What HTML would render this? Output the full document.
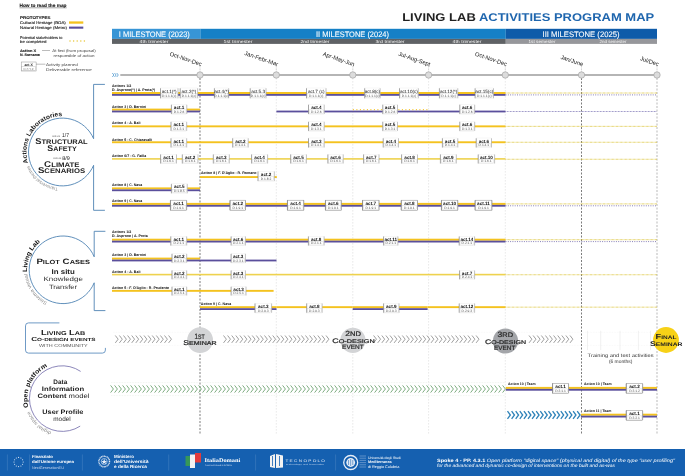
<!DOCTYPE html>
<html><head><meta charset="utf-8"><title>Living Lab Activities Program Map</title>
<style>
html,body{margin:0;padding:0;background:#fff;}
body{width:685px;height:476px;overflow:hidden;}
svg{display:block;font-family:"Liberation Sans",sans-serif;text-rendering:geometricPrecision;}
</style></head><body>
<svg width="685" height="476" viewBox="0 0 685 476">
<defs>
<path id="c1a" d="M28.16,162.80 A35.9,35.9 0 0 1 80.35,120.91"/>
<path id="c1b" d="M58.02,187.63 A35.9,35.9 0 0 1 28.26,163.09"/>
<path id="c2a" d="M27.17,271.99 A35.9,35.9 0 0 1 56.77,234.45"/>
<path id="c2b" d="M47.26,302.07 A35.9,35.9 0 0 1 27.19,272.30"/>
<path id="c3a" d="M28.41,407.36 A35,35 0 0 1 62.30,363.60"/>
<path id="c3b" d="M51.48,431.89 A35,35 0 0 1 28.66,408.25"/>
</defs>
<rect x="0" y="0" width="685" height="476" fill="#fff"/>
<text x="19.5" y="6.9" font-size="4.6" fill="#222" font-weight="bold" text-anchor="start" stroke="#222" stroke-width="0.12" textLength="47" lengthAdjust="spacingAndGlyphs">How to read the map</text>
<line x1="19.5" y1="7.8" x2="66.7" y2="7.8" stroke="#333" stroke-width="0.45" />
<text x="20" y="18.7" font-size="3.9" fill="#222" font-weight="bold" text-anchor="start" stroke="#222" stroke-width="0.12" textLength="30.6" lengthAdjust="spacingAndGlyphs">PROTOTYPES</text>
<text x="20" y="23.8" font-size="3.9" fill="#222" font-weight="normal" text-anchor="start" stroke="#222" stroke-width="0.12" textLength="45.8" lengthAdjust="spacingAndGlyphs">Cultural Heritage (BOA)</text>
<rect x="69" y="21.4" width="14.3" height="2.3" fill="#f4c21f" />
<text x="20" y="29.0" font-size="3.9" fill="#222" font-weight="normal" text-anchor="start" stroke="#222" stroke-width="0.12" textLength="47" lengthAdjust="spacingAndGlyphs">Natural Heritage (Metro)</text>
<rect x="69" y="26.6" width="14.3" height="2.1" fill="#5a4f9c" />
<text x="20" y="38.9" font-size="3.9" fill="#222" font-weight="normal" text-anchor="start" stroke="#222" stroke-width="0.12" textLength="42.3" lengthAdjust="spacingAndGlyphs">Potential stakeholders to</text>
<text x="20" y="43.3" font-size="3.9" fill="#222" font-weight="normal" text-anchor="start" stroke="#222" stroke-width="0.12" textLength="26.5" lengthAdjust="spacingAndGlyphs">be completed</text>
<circle cx="70.0" cy="40.9" r="0.75" fill="#e8c73a"/>
<circle cx="73.6" cy="40.9" r="0.75" fill="#e8c73a"/>
<circle cx="77.2" cy="40.9" r="0.75" fill="#e8c73a"/>
<circle cx="80.8" cy="40.9" r="0.75" fill="#e8c73a"/>
<circle cx="84.4" cy="40.9" r="0.75" fill="#e8c73a"/>
<text x="20" y="51.8" font-size="3.6" fill="#222" font-weight="bold" text-anchor="start" stroke="#222" stroke-width="0.12" textLength="16.1" lengthAdjust="spacingAndGlyphs">Action X</text>
<text x="20" y="56.2" font-size="3.6" fill="#222" font-weight="bold" text-anchor="start" stroke="#222" stroke-width="0.12" textLength="19.8" lengthAdjust="spacingAndGlyphs">N. Surname</text>
<line x1="42" y1="50.5" x2="50" y2="50.5" stroke="#555" stroke-width="0.4" />
<text x="52.3" y="51.9" font-size="3.9" fill="#404040" font-weight="normal" text-anchor="start" textLength="43.3" lengthAdjust="spacingAndGlyphs">At first (from proposal)</text>
<text x="53.5" y="57.3" font-size="3.9" fill="#404040" font-weight="normal" text-anchor="start" textLength="40.9" lengthAdjust="spacingAndGlyphs">responsible of action</text>
<rect x="21.2" y="62" width="14.9" height="9" fill="#fff" stroke="#888" stroke-width="0.45"/>
<text x="28.6" y="65.6" font-size="3.5" fill="#222" font-weight="bold" text-anchor="middle" >act.X</text>
<rect x="21.8" y="66.8" width="13.7" height="3.6" fill="none" stroke="#aaa" stroke-width="0.35"/>
<text x="28.6" y="69.9" font-size="3" fill="#777" font-weight="normal" text-anchor="middle" >D.X.Y.Z</text>
<line x1="36.1" y1="64.2" x2="45.4" y2="64.2" stroke="#555" stroke-width="0.4" />
<text x="46" y="65.6" font-size="3.9" fill="#404040" font-weight="normal" text-anchor="start" textLength="31.7" lengthAdjust="spacingAndGlyphs">Activity planned</text>
<text x="46" y="70.8" font-size="3.9" fill="#404040" font-weight="normal" text-anchor="start" textLength="46" lengthAdjust="spacingAndGlyphs">Deliverable reference</text>
<text x="402.2" y="21.3" font-size="11.2" font-weight="bold" fill="#222" textLength="252" lengthAdjust="spacingAndGlyphs">LIVING LAB <tspan fill="#1f66ae">ACTIVITIES PROGRAM MAP</tspan></text>
<rect x="112" y="28.8" width="88.3" height="10.1" fill="#3795d6" />
<rect x="200.3" y="28.8" width="305.5" height="10.1" fill="#1580c6" />
<rect x="505.8" y="28.8" width="151.2" height="10.1" fill="#0e5ba9" />
<rect x="112" y="38.9" width="393.8" height="5" fill="#5f6265" />
<rect x="505.8" y="38.9" width="151.2" height="5" fill="#96979b" />
<text x="154.3" y="37.4" font-size="7.9" fill="#fff" font-weight="normal" text-anchor="middle" textLength="71" lengthAdjust="spacingAndGlyphs" stroke="#fff" stroke-width="0.1">I MILESTONE (2023)</text>
<text x="352.5" y="37.4" font-size="7.9" fill="#fff" font-weight="normal" text-anchor="middle" textLength="73" lengthAdjust="spacingAndGlyphs" stroke="#fff" stroke-width="0.1">II MILESTONE (2024)</text>
<text x="581" y="37.4" font-size="7.9" fill="#fff" font-weight="normal" text-anchor="middle" textLength="77" lengthAdjust="spacingAndGlyphs" stroke="#fff" stroke-width="0.1">III MILESTONE (2025)</text>
<text x="154" y="42.9" font-size="4.3" fill="#f4f4f4" font-weight="normal" text-anchor="middle" textLength="29" lengthAdjust="spacingAndGlyphs">4th trimester</text>
<text x="238" y="42.9" font-size="4.3" fill="#f4f4f4" font-weight="normal" text-anchor="middle" textLength="29" lengthAdjust="spacingAndGlyphs">1st trimester</text>
<text x="315" y="42.9" font-size="4.3" fill="#f4f4f4" font-weight="normal" text-anchor="middle" textLength="29" lengthAdjust="spacingAndGlyphs">2nd trimester</text>
<text x="390" y="42.9" font-size="4.3" fill="#f4f4f4" font-weight="normal" text-anchor="middle" textLength="29" lengthAdjust="spacingAndGlyphs">3rd trimester</text>
<text x="467" y="42.9" font-size="4.3" fill="#f4f4f4" font-weight="normal" text-anchor="middle" textLength="29" lengthAdjust="spacingAndGlyphs">4th trimester</text>
<text x="542" y="42.9" font-size="4.3" fill="#f4f4f4" font-weight="normal" text-anchor="middle" textLength="27" lengthAdjust="spacingAndGlyphs">1st semester</text>
<text x="613" y="42.9" font-size="4.3" fill="#f4f4f4" font-weight="normal" text-anchor="middle" textLength="27" lengthAdjust="spacingAndGlyphs">2nd semester</text>
<line x1="200" y1="78" x2="200" y2="435" stroke="#444" stroke-width="0.7" stroke-dasharray="2 1.5"/>
<line x1="276.3" y1="78" x2="276.3" y2="435" stroke="#d2d2d2" stroke-width="0.5" stroke-dasharray="1.6 1.4"/>
<line x1="352.8" y1="78" x2="352.8" y2="435" stroke="#d2d2d2" stroke-width="0.5" stroke-dasharray="1.6 1.4"/>
<line x1="428.6" y1="78" x2="428.6" y2="435" stroke="#d2d2d2" stroke-width="0.5" stroke-dasharray="1.6 1.4"/>
<line x1="505.3" y1="78" x2="505.3" y2="435" stroke="#d2d2d2" stroke-width="0.5" stroke-dasharray="1.6 1.4"/>
<line x1="581.5" y1="78" x2="581.5" y2="435" stroke="#444" stroke-width="0.7" stroke-dasharray="2 1.5"/>
<line x1="657" y1="78" x2="657" y2="435" stroke="#8a8a8a" stroke-width="0.6" stroke-dasharray="2 1.5"/>
<line x1="120.3" y1="75" x2="657" y2="75" stroke="#9c9c9c" stroke-width="1.3" />
<path d="M112.3,73 l1.6,2 l-1.6,2 M114.5,73 l1.6,2 l-1.6,2 M116.7,73 l1.6,2 l-1.6,2" fill="none" stroke="#3a8cc8" stroke-width="0.7"/>
<line x1="200" y1="66" x2="200" y2="71.5" stroke="#777" stroke-width="0.4" stroke-dasharray="0.9 0.7"/>
<circle cx="200" cy="75" r="3.2" fill="#dcdcdc" stroke="#a5a5a5" stroke-width="0.7"/>
<text x="201.0" y="66.3" font-size="5.8" fill="#111" text-anchor="end" transform="rotate(19 201.0 66.3)">Oct-Nov-Dec</text>
<line x1="276.3" y1="66" x2="276.3" y2="71.5" stroke="#777" stroke-width="0.4" stroke-dasharray="0.9 0.7"/>
<circle cx="276.3" cy="75" r="3.2" fill="#dcdcdc" stroke="#a5a5a5" stroke-width="0.7"/>
<text x="277.3" y="66.3" font-size="5.8" fill="#111" text-anchor="end" transform="rotate(19 277.3 66.3)">Jan-Febr-Mar</text>
<line x1="352.8" y1="66" x2="352.8" y2="71.5" stroke="#777" stroke-width="0.4" stroke-dasharray="0.9 0.7"/>
<circle cx="352.8" cy="75" r="3.2" fill="#dcdcdc" stroke="#a5a5a5" stroke-width="0.7"/>
<text x="353.8" y="66.3" font-size="5.8" fill="#111" text-anchor="end" transform="rotate(19 353.8 66.3)">Apr-May-Jun</text>
<line x1="428.6" y1="66" x2="428.6" y2="71.5" stroke="#777" stroke-width="0.4" stroke-dasharray="0.9 0.7"/>
<circle cx="428.6" cy="75" r="3.2" fill="#dcdcdc" stroke="#a5a5a5" stroke-width="0.7"/>
<text x="429.6" y="66.3" font-size="5.8" fill="#111" text-anchor="end" transform="rotate(19 429.6 66.3)">Jul-Aug-Sept</text>
<line x1="505.3" y1="66" x2="505.3" y2="71.5" stroke="#777" stroke-width="0.4" stroke-dasharray="0.9 0.7"/>
<circle cx="505.3" cy="75" r="3.2" fill="#dcdcdc" stroke="#a5a5a5" stroke-width="0.7"/>
<text x="506.3" y="66.3" font-size="5.8" fill="#111" text-anchor="end" transform="rotate(19 506.3 66.3)">Oct-Nov-Dec</text>
<line x1="581.5" y1="66" x2="581.5" y2="71.5" stroke="#777" stroke-width="0.4" stroke-dasharray="0.9 0.7"/>
<circle cx="581.5" cy="75" r="3.2" fill="#dcdcdc" stroke="#a5a5a5" stroke-width="0.7"/>
<text x="582.5" y="66.3" font-size="5.8" fill="#111" text-anchor="end" transform="rotate(19 582.5 66.3)">Jan/June</text>
<line x1="657" y1="66" x2="657" y2="71.5" stroke="#777" stroke-width="0.4" stroke-dasharray="0.9 0.7"/>
<circle cx="657" cy="75" r="3.2" fill="#dcdcdc" stroke="#a5a5a5" stroke-width="0.7"/>
<text x="658.0" y="66.3" font-size="5.8" fill="#111" text-anchor="end" transform="rotate(19 658.0 66.3)">Jul/Dec</text>
<text x="112" y="87" font-size="3.6" fill="#111" font-weight="bold" text-anchor="start" >Actions 1/2</text>
<text x="112" y="91" font-size="3.6" fill="#111" font-weight="bold" text-anchor="start" >D. Asprone(*) | A. Prota(*)</text>
<rect x="112" y="92.0" width="393.5" height="2.0" fill="#f4c21f" />
<rect x="112" y="94.0" width="393.5" height="1.8" fill="#5a4f9c" />
<line x1="505.5" y1="93.0" x2="657" y2="93.0" stroke="#dcc43a" stroke-width="1.0" stroke-dasharray="0.7 0.6" opacity="1"/>
<line x1="505.5" y1="94.9" x2="657" y2="94.9" stroke="#6a60a8" stroke-width="1.0" stroke-dasharray="1 1.3" opacity="0.8"/>
<rect x="160.5" y="88" width="17.5" height="10.6" fill="#fff" stroke="#e4e4e4" stroke-width="0.3"/>
<line x1="160.5" y1="88.3" x2="160.5" y2="98.3" stroke="#6d6d6d" stroke-width="0.6" />
<line x1="178" y1="88.3" x2="178" y2="98.3" stroke="#8d8d8d" stroke-width="0.5" />
<text x="169.2" y="93.0" font-size="4.6" font-weight="normal" fill="#111" text-anchor="middle">act.1(*)</text>
<rect x="161.3" y="93.8" width="15.9" height="3.8" fill="none" stroke="#c4c4c4" stroke-width="0.3"/>
<text x="169.2" y="97.0" font-size="3.3" fill="#555" text-anchor="middle">D.1.1.1(c)</text>
<rect x="180.2" y="88" width="17.5" height="10.6" fill="#fff" stroke="#e4e4e4" stroke-width="0.3"/>
<line x1="180.2" y1="88.3" x2="180.2" y2="98.3" stroke="#6d6d6d" stroke-width="0.6" />
<line x1="197.7" y1="88.3" x2="197.7" y2="98.3" stroke="#8d8d8d" stroke-width="0.5" />
<text x="188.9" y="93.0" font-size="4.6" font-weight="normal" fill="#111" text-anchor="middle">act.2(*)</text>
<rect x="181.0" y="93.8" width="15.9" height="3.8" fill="none" stroke="#c4c4c4" stroke-width="0.3"/>
<text x="188.9" y="97.0" font-size="3.3" fill="#555" text-anchor="middle">D.1.1.1(c)</text>
<rect x="214.4" y="88" width="14.3" height="10.6" fill="#fff" stroke="#e4e4e4" stroke-width="0.3"/>
<line x1="214.4" y1="88.3" x2="214.4" y2="98.3" stroke="#6d6d6d" stroke-width="0.6" />
<line x1="228.7" y1="88.3" x2="228.7" y2="98.3" stroke="#8d8d8d" stroke-width="0.5" />
<text x="221.6" y="93.0" font-size="4.6" font-weight="normal" fill="#111" text-anchor="middle">act.4(*)</text>
<rect x="215.2" y="93.8" width="12.7" height="3.8" fill="none" stroke="#c4c4c4" stroke-width="0.3"/>
<text x="221.6" y="97.0" font-size="3.3" fill="#555" text-anchor="middle">D.1.1.1(c)</text>
<rect x="250.2" y="88" width="15.8" height="10.6" fill="#fff" stroke="#e4e4e4" stroke-width="0.3"/>
<line x1="250.2" y1="88.3" x2="250.2" y2="98.3" stroke="#6d6d6d" stroke-width="0.6" />
<line x1="266" y1="88.3" x2="266" y2="98.3" stroke="#8d8d8d" stroke-width="0.5" />
<text x="258.1" y="93.0" font-size="4.6" font-weight="normal" fill="#111" text-anchor="middle">act.5.3</text>
<rect x="251.0" y="93.8" width="14.2" height="3.8" fill="none" stroke="#c4c4c4" stroke-width="0.3"/>
<text x="258.1" y="97.0" font-size="3.3" fill="#555" text-anchor="middle">D.1.1.1(c)</text>
<rect x="306.5" y="88" width="19.5" height="10.6" fill="#fff" stroke="#e4e4e4" stroke-width="0.3"/>
<line x1="306.5" y1="88.3" x2="306.5" y2="98.3" stroke="#6d6d6d" stroke-width="0.6" />
<line x1="326" y1="88.3" x2="326" y2="98.3" stroke="#8d8d8d" stroke-width="0.5" />
<text x="316.2" y="93.0" font-size="4.6" font-weight="normal" fill="#111" text-anchor="middle">act.7 (c)</text>
<rect x="307.3" y="93.8" width="17.9" height="3.8" fill="none" stroke="#c4c4c4" stroke-width="0.3"/>
<text x="316.2" y="97.0" font-size="3.3" fill="#555" text-anchor="middle">D.1.1.1(c)</text>
<rect x="364.7" y="88" width="15.4" height="10.6" fill="#fff" stroke="#e4e4e4" stroke-width="0.3"/>
<line x1="364.7" y1="88.3" x2="364.7" y2="98.3" stroke="#6d6d6d" stroke-width="0.6" />
<line x1="380.1" y1="88.3" x2="380.1" y2="98.3" stroke="#8d8d8d" stroke-width="0.5" />
<text x="372.4" y="93.0" font-size="4.6" font-weight="normal" fill="#111" text-anchor="middle">act.8(c)</text>
<rect x="365.5" y="93.8" width="13.8" height="3.8" fill="none" stroke="#c4c4c4" stroke-width="0.3"/>
<text x="372.4" y="97.0" font-size="3.3" fill="#555" text-anchor="middle">D.1.1.1(c)</text>
<rect x="399.5" y="88" width="18.8" height="10.6" fill="#fff" stroke="#e4e4e4" stroke-width="0.3"/>
<line x1="399.5" y1="88.3" x2="399.5" y2="98.3" stroke="#6d6d6d" stroke-width="0.6" />
<line x1="418.3" y1="88.3" x2="418.3" y2="98.3" stroke="#8d8d8d" stroke-width="0.5" />
<text x="408.9" y="93.0" font-size="4.6" font-weight="normal" fill="#111" text-anchor="middle">act.10(c)</text>
<rect x="400.3" y="93.8" width="17.2" height="3.8" fill="none" stroke="#c4c4c4" stroke-width="0.3"/>
<text x="408.9" y="97.0" font-size="3.3" fill="#555" text-anchor="middle">D.1.1.1(c)</text>
<rect x="439.4" y="88" width="18.4" height="10.6" fill="#fff" stroke="#e4e4e4" stroke-width="0.3"/>
<line x1="439.4" y1="88.3" x2="439.4" y2="98.3" stroke="#6d6d6d" stroke-width="0.6" />
<line x1="457.8" y1="88.3" x2="457.8" y2="98.3" stroke="#8d8d8d" stroke-width="0.5" />
<text x="448.6" y="93.0" font-size="4.6" font-weight="normal" fill="#111" text-anchor="middle">act.12(*)</text>
<rect x="440.2" y="93.8" width="16.8" height="3.8" fill="none" stroke="#c4c4c4" stroke-width="0.3"/>
<text x="448.6" y="97.0" font-size="3.3" fill="#555" text-anchor="middle">D.1.1.1(c)</text>
<rect x="475.1" y="88" width="18.4" height="10.6" fill="#fff" stroke="#e4e4e4" stroke-width="0.3"/>
<line x1="475.1" y1="88.3" x2="475.1" y2="98.3" stroke="#6d6d6d" stroke-width="0.6" />
<line x1="493.5" y1="88.3" x2="493.5" y2="98.3" stroke="#8d8d8d" stroke-width="0.5" />
<text x="484.3" y="93.0" font-size="4.6" font-weight="normal" fill="#111" text-anchor="middle">act.15(c)</text>
<rect x="475.9" y="93.8" width="16.8" height="3.8" fill="none" stroke="#c4c4c4" stroke-width="0.3"/>
<text x="484.3" y="97.0" font-size="3.3" fill="#555" text-anchor="middle">D.1.1.1(c)</text>
<text x="112" y="107.6" font-size="3.6" fill="#111" font-weight="bold" text-anchor="start" >Action 3 | D. Bernini</text>
<rect x="112" y="108.6" width="88" height="2.0" fill="#f4c21f" />
<rect x="112" y="110.6" width="88" height="1.8" fill="#5a4f9c" />
<rect x="276.4" y="110.6" width="229.1" height="1.8" fill="#5a4f9c" />
<line x1="505.5" y1="111.5" x2="657" y2="111.5" stroke="#7067ae" stroke-width="1.2" stroke-dasharray="0.8 0.7" opacity="0.8"/>
<circle cx="353.4" cy="109.7" r="0.6" fill="#f4c21f"/>
<circle cx="356.9" cy="109.7" r="0.6" fill="#f4c21f"/>
<circle cx="360.4" cy="109.7" r="0.6" fill="#f4c21f"/>
<circle cx="363.9" cy="109.7" r="0.6" fill="#f4c21f"/>
<circle cx="367.4" cy="109.7" r="0.6" fill="#f4c21f"/>
<circle cx="370.9" cy="109.7" r="0.6" fill="#f4c21f"/>
<circle cx="374.4" cy="109.7" r="0.6" fill="#f4c21f"/>
<circle cx="377.9" cy="109.7" r="0.6" fill="#f4c21f"/>
<circle cx="381.4" cy="109.7" r="0.6" fill="#f4c21f"/>
<circle cx="384.9" cy="109.7" r="0.6" fill="#f4c21f"/>
<circle cx="388.4" cy="109.7" r="0.6" fill="#f4c21f"/>
<circle cx="391.9" cy="109.7" r="0.6" fill="#f4c21f"/>
<circle cx="395.4" cy="109.7" r="0.6" fill="#f4c21f"/>
<circle cx="398.9" cy="109.7" r="0.6" fill="#f4c21f"/>
<circle cx="402.4" cy="109.7" r="0.6" fill="#f4c21f"/>
<circle cx="405.9" cy="109.7" r="0.6" fill="#f4c21f"/>
<circle cx="409.4" cy="109.7" r="0.6" fill="#f4c21f"/>
<circle cx="412.9" cy="109.7" r="0.6" fill="#f4c21f"/>
<circle cx="416.4" cy="109.7" r="0.6" fill="#f4c21f"/>
<circle cx="419.9" cy="109.7" r="0.6" fill="#f4c21f"/>
<circle cx="423.4" cy="109.7" r="0.6" fill="#f4c21f"/>
<circle cx="426.9" cy="109.7" r="0.6" fill="#f4c21f"/>
<rect x="171.4" y="104.5" width="15.4" height="9.8" fill="#fff" stroke="#e4e4e4" stroke-width="0.3"/>
<line x1="171.4" y1="104.8" x2="171.4" y2="114.0" stroke="#6d6d6d" stroke-width="0.6" />
<line x1="186.8" y1="104.8" x2="186.8" y2="114.0" stroke="#8d8d8d" stroke-width="0.5" />
<text x="179.1" y="109.1" font-size="4.6" font-weight="bold" fill="#111" text-anchor="middle">act.1</text>
<rect x="172.2" y="109.9" width="13.8" height="3.5" fill="none" stroke="#c4c4c4" stroke-width="0.3"/>
<text x="179.1" y="112.8" font-size="3.3" fill="#555" text-anchor="middle">D.1.2.6</text>
<rect x="308.5" y="104.5" width="15.7" height="9.8" fill="#fff" stroke="#e4e4e4" stroke-width="0.3"/>
<line x1="308.5" y1="104.8" x2="308.5" y2="114.0" stroke="#6d6d6d" stroke-width="0.6" />
<line x1="324.2" y1="104.8" x2="324.2" y2="114.0" stroke="#8d8d8d" stroke-width="0.5" />
<text x="316.4" y="109.1" font-size="4.6" font-weight="bold" fill="#111" text-anchor="middle">act.4</text>
<rect x="309.3" y="109.9" width="14.1" height="3.5" fill="none" stroke="#c4c4c4" stroke-width="0.3"/>
<text x="316.4" y="112.8" font-size="3.3" fill="#555" text-anchor="middle">D.1.2.6</text>
<rect x="382.8" y="104.5" width="14.7" height="9.8" fill="#fff" stroke="#e4e4e4" stroke-width="0.3"/>
<line x1="382.8" y1="104.8" x2="382.8" y2="114.0" stroke="#6d6d6d" stroke-width="0.6" />
<line x1="397.5" y1="104.8" x2="397.5" y2="114.0" stroke="#8d8d8d" stroke-width="0.5" />
<text x="390.1" y="109.1" font-size="4.6" font-weight="bold" fill="#111" text-anchor="middle">act.5</text>
<rect x="383.6" y="109.9" width="13.1" height="3.5" fill="none" stroke="#c4c4c4" stroke-width="0.3"/>
<text x="390.1" y="112.8" font-size="3.3" fill="#555" text-anchor="middle">D.1.2.6</text>
<rect x="459.8" y="104.5" width="14.9" height="9.8" fill="#fff" stroke="#e4e4e4" stroke-width="0.3"/>
<line x1="459.8" y1="104.8" x2="459.8" y2="114.0" stroke="#6d6d6d" stroke-width="0.6" />
<line x1="474.7" y1="104.8" x2="474.7" y2="114.0" stroke="#8d8d8d" stroke-width="0.5" />
<text x="467.2" y="109.1" font-size="4.6" font-weight="bold" fill="#111" text-anchor="middle">act.6</text>
<rect x="460.6" y="109.9" width="13.3" height="3.5" fill="none" stroke="#c4c4c4" stroke-width="0.3"/>
<text x="467.2" y="112.8" font-size="3.3" fill="#555" text-anchor="middle">D.1.2.6</text>
<text x="112" y="124.4" font-size="3.6" fill="#111" font-weight="bold" text-anchor="start" >Action 4 - A. Bali</text>
<rect x="112" y="125.4" width="393.5" height="1.9" fill="#f4c21f" />
<line x1="505.5" y1="126.35000000000001" x2="657" y2="126.35000000000001" stroke="#dcc43a" stroke-width="1.0" stroke-dasharray="0.7 0.6" opacity="1"/>
<rect x="171" y="121.6" width="15.7" height="9.6" fill="#fff" stroke="#e4e4e4" stroke-width="0.3"/>
<line x1="171" y1="121.89999999999999" x2="171" y2="130.89999999999998" stroke="#6d6d6d" stroke-width="0.6" />
<line x1="186.7" y1="121.89999999999999" x2="186.7" y2="130.89999999999998" stroke="#8d8d8d" stroke-width="0.5" />
<text x="178.8" y="126.1" font-size="4.6" font-weight="bold" fill="#111" text-anchor="middle">act.1</text>
<rect x="171.8" y="126.9" width="14.1" height="3.5" fill="none" stroke="#c4c4c4" stroke-width="0.3"/>
<text x="178.8" y="129.8" font-size="3.3" fill="#555" text-anchor="middle">D.1.3.1</text>
<rect x="308.5" y="121.6" width="15.7" height="9.6" fill="#fff" stroke="#e4e4e4" stroke-width="0.3"/>
<line x1="308.5" y1="121.89999999999999" x2="308.5" y2="130.89999999999998" stroke="#6d6d6d" stroke-width="0.6" />
<line x1="324.2" y1="121.89999999999999" x2="324.2" y2="130.89999999999998" stroke="#8d8d8d" stroke-width="0.5" />
<text x="316.4" y="126.1" font-size="4.6" font-weight="bold" fill="#111" text-anchor="middle">act.4</text>
<rect x="309.3" y="126.9" width="14.1" height="3.5" fill="none" stroke="#c4c4c4" stroke-width="0.3"/>
<text x="316.4" y="129.8" font-size="3.3" fill="#555" text-anchor="middle">D.1.3.1</text>
<rect x="382.8" y="121.6" width="14.7" height="9.6" fill="#fff" stroke="#e4e4e4" stroke-width="0.3"/>
<line x1="382.8" y1="121.89999999999999" x2="382.8" y2="130.89999999999998" stroke="#6d6d6d" stroke-width="0.6" />
<line x1="397.5" y1="121.89999999999999" x2="397.5" y2="130.89999999999998" stroke="#8d8d8d" stroke-width="0.5" />
<text x="390.1" y="126.1" font-size="4.6" font-weight="bold" fill="#111" text-anchor="middle">act.5</text>
<rect x="383.6" y="126.9" width="13.1" height="3.5" fill="none" stroke="#c4c4c4" stroke-width="0.3"/>
<text x="390.1" y="129.8" font-size="3.3" fill="#555" text-anchor="middle">D.1.3.1</text>
<rect x="459.8" y="121.6" width="14.9" height="9.6" fill="#fff" stroke="#e4e4e4" stroke-width="0.3"/>
<line x1="459.8" y1="121.89999999999999" x2="459.8" y2="130.89999999999998" stroke="#6d6d6d" stroke-width="0.6" />
<line x1="474.7" y1="121.89999999999999" x2="474.7" y2="130.89999999999998" stroke="#8d8d8d" stroke-width="0.5" />
<text x="467.2" y="126.1" font-size="4.6" font-weight="bold" fill="#111" text-anchor="middle">act.6</text>
<rect x="460.6" y="126.9" width="13.3" height="3.5" fill="none" stroke="#c4c4c4" stroke-width="0.3"/>
<text x="467.2" y="129.8" font-size="3.3" fill="#555" text-anchor="middle">D.1.3.1</text>
<text x="112" y="140.6" font-size="3.6" fill="#111" font-weight="bold" text-anchor="start" >Action 5 - C. Chiaravalli</text>
<rect x="112" y="141.3" width="393.5" height="1.9" fill="#f4c21f" />
<line x1="505.5" y1="142.25" x2="657" y2="142.25" stroke="#dcc43a" stroke-width="1.0" stroke-dasharray="0.7 0.6" opacity="1"/>
<rect x="171" y="138" width="15.7" height="9.8" fill="#fff" stroke="#e4e4e4" stroke-width="0.3"/>
<line x1="171" y1="138.3" x2="171" y2="147.5" stroke="#6d6d6d" stroke-width="0.6" />
<line x1="186.7" y1="138.3" x2="186.7" y2="147.5" stroke="#8d8d8d" stroke-width="0.5" />
<text x="178.8" y="142.6" font-size="4.6" font-weight="bold" fill="#111" text-anchor="middle">act.1</text>
<rect x="171.8" y="143.4" width="14.1" height="3.5" fill="none" stroke="#c4c4c4" stroke-width="0.3"/>
<text x="178.8" y="146.3" font-size="3.3" fill="#555" text-anchor="middle">D.1.4.1</text>
<rect x="232.7" y="138" width="15.5" height="9.8" fill="#fff" stroke="#e4e4e4" stroke-width="0.3"/>
<line x1="232.7" y1="138.3" x2="232.7" y2="147.5" stroke="#6d6d6d" stroke-width="0.6" />
<line x1="248.2" y1="138.3" x2="248.2" y2="147.5" stroke="#8d8d8d" stroke-width="0.5" />
<text x="240.4" y="142.6" font-size="4.6" font-weight="bold" fill="#111" text-anchor="middle">act.2</text>
<rect x="233.5" y="143.4" width="13.9" height="3.5" fill="none" stroke="#c4c4c4" stroke-width="0.3"/>
<text x="240.4" y="146.3" font-size="3.3" fill="#555" text-anchor="middle">D.1.4.1</text>
<rect x="308.5" y="138" width="15.7" height="9.8" fill="#fff" stroke="#e4e4e4" stroke-width="0.3"/>
<line x1="308.5" y1="138.3" x2="308.5" y2="147.5" stroke="#6d6d6d" stroke-width="0.6" />
<line x1="324.2" y1="138.3" x2="324.2" y2="147.5" stroke="#8d8d8d" stroke-width="0.5" />
<text x="316.4" y="142.6" font-size="4.6" font-weight="bold" fill="#111" text-anchor="middle">act.3</text>
<rect x="309.3" y="143.4" width="14.1" height="3.5" fill="none" stroke="#c4c4c4" stroke-width="0.3"/>
<text x="316.4" y="146.3" font-size="3.3" fill="#555" text-anchor="middle">D.1.4.1</text>
<rect x="383.2" y="138" width="15.3" height="9.8" fill="#fff" stroke="#e4e4e4" stroke-width="0.3"/>
<line x1="383.2" y1="138.3" x2="383.2" y2="147.5" stroke="#6d6d6d" stroke-width="0.6" />
<line x1="398.5" y1="138.3" x2="398.5" y2="147.5" stroke="#8d8d8d" stroke-width="0.5" />
<text x="390.9" y="142.6" font-size="4.6" font-weight="bold" fill="#111" text-anchor="middle">act.4</text>
<rect x="384.0" y="143.4" width="13.7" height="3.5" fill="none" stroke="#c4c4c4" stroke-width="0.3"/>
<text x="390.9" y="146.3" font-size="3.3" fill="#555" text-anchor="middle">D.1.4.1</text>
<rect x="442.4" y="138" width="15.4" height="9.8" fill="#fff" stroke="#e4e4e4" stroke-width="0.3"/>
<line x1="442.4" y1="138.3" x2="442.4" y2="147.5" stroke="#6d6d6d" stroke-width="0.6" />
<line x1="457.8" y1="138.3" x2="457.8" y2="147.5" stroke="#8d8d8d" stroke-width="0.5" />
<text x="450.1" y="142.6" font-size="4.6" font-weight="bold" fill="#111" text-anchor="middle">act.5</text>
<rect x="443.2" y="143.4" width="13.8" height="3.5" fill="none" stroke="#c4c4c4" stroke-width="0.3"/>
<text x="450.1" y="146.3" font-size="3.3" fill="#555" text-anchor="middle">D.1.4.1</text>
<rect x="476.2" y="138" width="15.3" height="9.8" fill="#fff" stroke="#e4e4e4" stroke-width="0.3"/>
<line x1="476.2" y1="138.3" x2="476.2" y2="147.5" stroke="#6d6d6d" stroke-width="0.6" />
<line x1="491.5" y1="138.3" x2="491.5" y2="147.5" stroke="#8d8d8d" stroke-width="0.5" />
<text x="483.9" y="142.6" font-size="4.6" font-weight="bold" fill="#111" text-anchor="middle">act.6</text>
<rect x="477.0" y="143.4" width="13.7" height="3.5" fill="none" stroke="#c4c4c4" stroke-width="0.3"/>
<text x="483.9" y="146.3" font-size="3.3" fill="#555" text-anchor="middle">D.1.4.1</text>
<text x="112" y="157.4" font-size="3.6" fill="#111" font-weight="bold" text-anchor="start" >Action 6/7 - G. Failla</text>
<rect x="112" y="158.1" width="393.5" height="1.6" fill="#eed24e" />
<line x1="505.5" y1="159.25" x2="657" y2="159.25" stroke="#dcc43a" stroke-width="1.0" stroke-dasharray="0.7 0.6" opacity="1"/>
<rect x="160.6" y="154.2" width="15.9" height="9.6" fill="#fff" stroke="#e4e4e4" stroke-width="0.3"/>
<line x1="160.6" y1="154.5" x2="160.6" y2="163.5" stroke="#6d6d6d" stroke-width="0.6" />
<line x1="176.5" y1="154.5" x2="176.5" y2="163.5" stroke="#8d8d8d" stroke-width="0.5" />
<text x="168.6" y="158.7" font-size="4.6" font-weight="bold" fill="#111" text-anchor="middle">act.1</text>
<rect x="161.4" y="159.5" width="14.3" height="3.5" fill="none" stroke="#c4c4c4" stroke-width="0.3"/>
<text x="168.6" y="162.4" font-size="3.3" fill="#555" text-anchor="middle">D.1.6.1</text>
<rect x="182.3" y="154.2" width="15.7" height="9.6" fill="#fff" stroke="#e4e4e4" stroke-width="0.3"/>
<line x1="182.3" y1="154.5" x2="182.3" y2="163.5" stroke="#6d6d6d" stroke-width="0.6" />
<line x1="198" y1="154.5" x2="198" y2="163.5" stroke="#8d8d8d" stroke-width="0.5" />
<text x="190.2" y="158.7" font-size="4.6" font-weight="bold" fill="#111" text-anchor="middle">act.2</text>
<rect x="183.1" y="159.5" width="14.1" height="3.5" fill="none" stroke="#c4c4c4" stroke-width="0.3"/>
<text x="190.2" y="162.4" font-size="3.3" fill="#555" text-anchor="middle">D.1.6.1</text>
<rect x="213.3" y="154.2" width="16.0" height="9.6" fill="#fff" stroke="#e4e4e4" stroke-width="0.3"/>
<line x1="213.3" y1="154.5" x2="213.3" y2="163.5" stroke="#6d6d6d" stroke-width="0.6" />
<line x1="229.3" y1="154.5" x2="229.3" y2="163.5" stroke="#8d8d8d" stroke-width="0.5" />
<text x="221.3" y="158.7" font-size="4.6" font-weight="bold" fill="#111" text-anchor="middle">act.3</text>
<rect x="214.1" y="159.5" width="14.4" height="3.5" fill="none" stroke="#c4c4c4" stroke-width="0.3"/>
<text x="221.3" y="162.4" font-size="3.3" fill="#555" text-anchor="middle">D.1.6.1</text>
<rect x="251.6" y="154.2" width="16.0" height="9.6" fill="#fff" stroke="#e4e4e4" stroke-width="0.3"/>
<line x1="251.6" y1="154.5" x2="251.6" y2="163.5" stroke="#6d6d6d" stroke-width="0.6" />
<line x1="267.6" y1="154.5" x2="267.6" y2="163.5" stroke="#8d8d8d" stroke-width="0.5" />
<text x="259.6" y="158.7" font-size="4.6" font-weight="bold" fill="#111" text-anchor="middle">act.4</text>
<rect x="252.4" y="159.5" width="14.4" height="3.5" fill="none" stroke="#c4c4c4" stroke-width="0.3"/>
<text x="259.6" y="162.4" font-size="3.3" fill="#555" text-anchor="middle">D.1.6.1</text>
<rect x="290.7" y="154.2" width="15.7" height="9.6" fill="#fff" stroke="#e4e4e4" stroke-width="0.3"/>
<line x1="290.7" y1="154.5" x2="290.7" y2="163.5" stroke="#6d6d6d" stroke-width="0.6" />
<line x1="306.4" y1="154.5" x2="306.4" y2="163.5" stroke="#8d8d8d" stroke-width="0.5" />
<text x="298.5" y="158.7" font-size="4.6" font-weight="bold" fill="#111" text-anchor="middle">act.5</text>
<rect x="291.5" y="159.5" width="14.1" height="3.5" fill="none" stroke="#c4c4c4" stroke-width="0.3"/>
<text x="298.5" y="162.4" font-size="3.3" fill="#555" text-anchor="middle">D.1.6.1</text>
<rect x="327.9" y="154.2" width="15.3" height="9.6" fill="#fff" stroke="#e4e4e4" stroke-width="0.3"/>
<line x1="327.9" y1="154.5" x2="327.9" y2="163.5" stroke="#6d6d6d" stroke-width="0.6" />
<line x1="343.2" y1="154.5" x2="343.2" y2="163.5" stroke="#8d8d8d" stroke-width="0.5" />
<text x="335.5" y="158.7" font-size="4.6" font-weight="bold" fill="#111" text-anchor="middle">act.6</text>
<rect x="328.7" y="159.5" width="13.7" height="3.5" fill="none" stroke="#c4c4c4" stroke-width="0.3"/>
<text x="335.5" y="162.4" font-size="3.3" fill="#555" text-anchor="middle">D.1.6.1</text>
<rect x="363.6" y="154.2" width="15.4" height="9.6" fill="#fff" stroke="#e4e4e4" stroke-width="0.3"/>
<line x1="363.6" y1="154.5" x2="363.6" y2="163.5" stroke="#6d6d6d" stroke-width="0.6" />
<line x1="379" y1="154.5" x2="379" y2="163.5" stroke="#8d8d8d" stroke-width="0.5" />
<text x="371.3" y="158.7" font-size="4.6" font-weight="bold" fill="#111" text-anchor="middle">act.7</text>
<rect x="364.4" y="159.5" width="13.8" height="3.5" fill="none" stroke="#c4c4c4" stroke-width="0.3"/>
<text x="371.3" y="162.4" font-size="3.3" fill="#555" text-anchor="middle">D.1.6.1</text>
<rect x="401.6" y="154.2" width="15.9" height="9.6" fill="#fff" stroke="#e4e4e4" stroke-width="0.3"/>
<line x1="401.6" y1="154.5" x2="401.6" y2="163.5" stroke="#6d6d6d" stroke-width="0.6" />
<line x1="417.5" y1="154.5" x2="417.5" y2="163.5" stroke="#8d8d8d" stroke-width="0.5" />
<text x="409.6" y="158.7" font-size="4.6" font-weight="bold" fill="#111" text-anchor="middle">act.8</text>
<rect x="402.4" y="159.5" width="14.3" height="3.5" fill="none" stroke="#c4c4c4" stroke-width="0.3"/>
<text x="409.6" y="162.4" font-size="3.3" fill="#555" text-anchor="middle">D.1.6.1</text>
<rect x="440.4" y="154.2" width="15.9" height="9.6" fill="#fff" stroke="#e4e4e4" stroke-width="0.3"/>
<line x1="440.4" y1="154.5" x2="440.4" y2="163.5" stroke="#6d6d6d" stroke-width="0.6" />
<line x1="456.3" y1="154.5" x2="456.3" y2="163.5" stroke="#8d8d8d" stroke-width="0.5" />
<text x="448.4" y="158.7" font-size="4.6" font-weight="bold" fill="#111" text-anchor="middle">act.9</text>
<rect x="441.2" y="159.5" width="14.3" height="3.5" fill="none" stroke="#c4c4c4" stroke-width="0.3"/>
<text x="448.4" y="162.4" font-size="3.3" fill="#555" text-anchor="middle">D.1.6.1</text>
<rect x="478.2" y="154.2" width="16.4" height="9.6" fill="#fff" stroke="#e4e4e4" stroke-width="0.3"/>
<line x1="478.2" y1="154.5" x2="478.2" y2="163.5" stroke="#6d6d6d" stroke-width="0.6" />
<line x1="494.6" y1="154.5" x2="494.6" y2="163.5" stroke="#8d8d8d" stroke-width="0.5" />
<text x="486.4" y="158.7" font-size="4.6" font-weight="bold" fill="#111" text-anchor="middle">act.10</text>
<rect x="479.0" y="159.5" width="14.8" height="3.5" fill="none" stroke="#c4c4c4" stroke-width="0.3"/>
<text x="486.4" y="162.4" font-size="3.3" fill="#555" text-anchor="middle">D.1.6.1</text>
<text x="201" y="174.4" font-size="3.6" fill="#111" font-weight="bold" text-anchor="start" >Action 8 | F. D'Aglio - R. Romano</text>
<rect x="200" y="176.1" width="76.8" height="1.9" fill="#f4c21f" />
<rect x="258" y="171.2" width="16.3" height="10.2" fill="#fff" stroke="#e4e4e4" stroke-width="0.3"/>
<line x1="258" y1="171.5" x2="258" y2="181.1" stroke="#6d6d6d" stroke-width="0.6" />
<line x1="274.3" y1="171.5" x2="274.3" y2="181.1" stroke="#8d8d8d" stroke-width="0.5" />
<text x="266.1" y="176.0" font-size="4.6" font-weight="bold" fill="#111" text-anchor="middle">act.2</text>
<rect x="258.8" y="176.8" width="14.7" height="3.7" fill="none" stroke="#c4c4c4" stroke-width="0.3"/>
<text x="266.1" y="179.9" font-size="3.3" fill="#555" text-anchor="middle">D.1.8.2</text>
<text x="112" y="186.2" font-size="3.6" fill="#111" font-weight="bold" text-anchor="start" >Action 8 | C. Nava</text>
<rect x="112" y="187.4" width="88" height="2.0" fill="#f4c21f" />
<rect x="112" y="189.4" width="88" height="1.8" fill="#5a4f9c" />
<rect x="171.4" y="183.8" width="15.8" height="9.8" fill="#fff" stroke="#e4e4e4" stroke-width="0.3"/>
<line x1="171.4" y1="184.10000000000002" x2="171.4" y2="193.29999999999998" stroke="#6d6d6d" stroke-width="0.6" />
<line x1="187.2" y1="184.10000000000002" x2="187.2" y2="193.29999999999998" stroke="#8d8d8d" stroke-width="0.5" />
<text x="179.3" y="188.4" font-size="4.6" font-weight="bold" fill="#111" text-anchor="middle">act.5</text>
<rect x="172.2" y="189.2" width="14.2" height="3.5" fill="none" stroke="#c4c4c4" stroke-width="0.3"/>
<text x="179.3" y="192.1" font-size="3.3" fill="#555" text-anchor="middle">D.1.8.5</text>
<text x="112" y="201.5" font-size="3.6" fill="#111" font-weight="bold" text-anchor="start" >Action 9 | C. Nava</text>
<rect x="112" y="202.9" width="393.5" height="2.0" fill="#f4c21f" />
<rect x="112" y="204.9" width="393.5" height="1.8" fill="#5a4f9c" />
<line x1="505.5" y1="203.9" x2="657" y2="203.9" stroke="#dcc43a" stroke-width="1.0" stroke-dasharray="0.7 0.6" opacity="1"/>
<line x1="505.5" y1="205.8" x2="657" y2="205.8" stroke="#6a60a8" stroke-width="1.0" stroke-dasharray="1 1.3" opacity="0.8"/>
<rect x="170.4" y="200.2" width="16.3" height="10.2" fill="#fff" stroke="#8a8a8a" stroke-width="0.5"/>
<line x1="170.4" y1="200.5" x2="170.4" y2="210.1" stroke="#6d6d6d" stroke-width="0.6" />
<line x1="186.7" y1="200.5" x2="186.7" y2="210.1" stroke="#8d8d8d" stroke-width="0.5" />
<text x="178.6" y="205.0" font-size="4.6" font-weight="bold" fill="#111" text-anchor="middle">act.1</text>
<rect x="171.2" y="205.8" width="14.7" height="3.7" fill="none" stroke="#c4c4c4" stroke-width="0.3"/>
<text x="178.6" y="208.9" font-size="3.3" fill="#555" text-anchor="middle">D.1.9.1</text>
<rect x="230" y="200.2" width="15.5" height="10.2" fill="#fff" stroke="#8a8a8a" stroke-width="0.5"/>
<line x1="230" y1="200.5" x2="230" y2="210.1" stroke="#6d6d6d" stroke-width="0.6" />
<line x1="245.5" y1="200.5" x2="245.5" y2="210.1" stroke="#8d8d8d" stroke-width="0.5" />
<text x="237.8" y="205.0" font-size="4.6" font-weight="bold" fill="#111" text-anchor="middle">act.2</text>
<rect x="230.8" y="205.8" width="13.9" height="3.7" fill="none" stroke="#c4c4c4" stroke-width="0.3"/>
<text x="237.8" y="208.9" font-size="3.3" fill="#555" text-anchor="middle">D.1.9.1</text>
<rect x="287.4" y="200.2" width="16.4" height="10.2" fill="#fff" stroke="#8a8a8a" stroke-width="0.5"/>
<line x1="287.4" y1="200.5" x2="287.4" y2="210.1" stroke="#6d6d6d" stroke-width="0.6" />
<line x1="303.8" y1="200.5" x2="303.8" y2="210.1" stroke="#8d8d8d" stroke-width="0.5" />
<text x="295.6" y="205.0" font-size="4.6" font-weight="bold" fill="#111" text-anchor="middle">act.4</text>
<rect x="288.2" y="205.8" width="14.8" height="3.7" fill="none" stroke="#c4c4c4" stroke-width="0.3"/>
<text x="295.6" y="208.9" font-size="3.3" fill="#555" text-anchor="middle">D.1.9.1</text>
<rect x="325.4" y="200.2" width="15.8" height="10.2" fill="#fff" stroke="#8a8a8a" stroke-width="0.5"/>
<line x1="325.4" y1="200.5" x2="325.4" y2="210.1" stroke="#6d6d6d" stroke-width="0.6" />
<line x1="341.2" y1="200.5" x2="341.2" y2="210.1" stroke="#8d8d8d" stroke-width="0.5" />
<text x="333.3" y="205.0" font-size="4.6" font-weight="bold" fill="#111" text-anchor="middle">act.6</text>
<rect x="326.2" y="205.8" width="14.2" height="3.7" fill="none" stroke="#c4c4c4" stroke-width="0.3"/>
<text x="333.3" y="208.9" font-size="3.3" fill="#555" text-anchor="middle">D.1.9.1</text>
<rect x="362.6" y="200.2" width="16.4" height="10.2" fill="#fff" stroke="#8a8a8a" stroke-width="0.5"/>
<line x1="362.6" y1="200.5" x2="362.6" y2="210.1" stroke="#6d6d6d" stroke-width="0.6" />
<line x1="379" y1="200.5" x2="379" y2="210.1" stroke="#8d8d8d" stroke-width="0.5" />
<text x="370.8" y="205.0" font-size="4.6" font-weight="bold" fill="#111" text-anchor="middle">act.7</text>
<rect x="363.4" y="205.8" width="14.8" height="3.7" fill="none" stroke="#c4c4c4" stroke-width="0.3"/>
<text x="370.8" y="208.9" font-size="3.3" fill="#555" text-anchor="middle">D.1.9.1</text>
<rect x="401.2" y="200.2" width="16.3" height="10.2" fill="#fff" stroke="#8a8a8a" stroke-width="0.5"/>
<line x1="401.2" y1="200.5" x2="401.2" y2="210.1" stroke="#6d6d6d" stroke-width="0.6" />
<line x1="417.5" y1="200.5" x2="417.5" y2="210.1" stroke="#8d8d8d" stroke-width="0.5" />
<text x="409.4" y="205.0" font-size="4.6" font-weight="bold" fill="#111" text-anchor="middle">act.8</text>
<rect x="402.0" y="205.8" width="14.7" height="3.7" fill="none" stroke="#c4c4c4" stroke-width="0.3"/>
<text x="409.4" y="208.9" font-size="3.3" fill="#555" text-anchor="middle">D.1.9.1</text>
<rect x="441.4" y="200.2" width="16.4" height="10.2" fill="#fff" stroke="#8a8a8a" stroke-width="0.5"/>
<line x1="441.4" y1="200.5" x2="441.4" y2="210.1" stroke="#6d6d6d" stroke-width="0.6" />
<line x1="457.8" y1="200.5" x2="457.8" y2="210.1" stroke="#8d8d8d" stroke-width="0.5" />
<text x="449.6" y="205.0" font-size="4.6" font-weight="bold" fill="#111" text-anchor="middle">act.10</text>
<rect x="442.2" y="205.8" width="14.8" height="3.7" fill="none" stroke="#c4c4c4" stroke-width="0.3"/>
<text x="449.6" y="208.9" font-size="3.3" fill="#555" text-anchor="middle">D.1.9.1</text>
<rect x="475.1" y="200.2" width="16.8" height="10.2" fill="#fff" stroke="#8a8a8a" stroke-width="0.5"/>
<line x1="475.1" y1="200.5" x2="475.1" y2="210.1" stroke="#6d6d6d" stroke-width="0.6" />
<line x1="491.9" y1="200.5" x2="491.9" y2="210.1" stroke="#8d8d8d" stroke-width="0.5" />
<text x="483.5" y="205.0" font-size="4.6" font-weight="bold" fill="#111" text-anchor="middle">act.11</text>
<rect x="475.9" y="205.8" width="15.2" height="3.7" fill="none" stroke="#c4c4c4" stroke-width="0.3"/>
<text x="483.5" y="208.9" font-size="3.3" fill="#555" text-anchor="middle">D.1.9.1</text>
<text x="112" y="233" font-size="3.6" fill="#111" font-weight="bold" text-anchor="start" >Actions 1/2</text>
<text x="112" y="237.3" font-size="3.6" fill="#111" font-weight="bold" text-anchor="start" >D. Asprone | A. Prota</text>
<rect x="112" y="238.7" width="393.5" height="2.0" fill="#f4c21f" />
<rect x="112" y="240.7" width="393.5" height="1.8" fill="#5a4f9c" />
<line x1="505.5" y1="239.7" x2="657" y2="239.7" stroke="#dcc43a" stroke-width="1.0" stroke-dasharray="0.7 0.6" opacity="1"/>
<line x1="505.5" y1="241.6" x2="657" y2="241.6" stroke="#6a60a8" stroke-width="1.0" stroke-dasharray="1 1.3" opacity="0.8"/>
<rect x="170.8" y="236.2" width="15.9" height="9.6" fill="#fff" stroke="#e4e4e4" stroke-width="0.3"/>
<line x1="170.8" y1="236.5" x2="170.8" y2="245.5" stroke="#6d6d6d" stroke-width="0.6" />
<line x1="186.7" y1="236.5" x2="186.7" y2="245.5" stroke="#8d8d8d" stroke-width="0.5" />
<text x="178.8" y="240.7" font-size="4.6" font-weight="bold" fill="#111" text-anchor="middle">act.1</text>
<rect x="171.6" y="241.5" width="14.3" height="3.5" fill="none" stroke="#c4c4c4" stroke-width="0.3"/>
<text x="178.8" y="244.4" font-size="3.3" fill="#555" text-anchor="middle">D.2.1.1</text>
<rect x="231.1" y="236.2" width="14.3" height="9.6" fill="#fff" stroke="#e4e4e4" stroke-width="0.3"/>
<line x1="231.1" y1="236.5" x2="231.1" y2="245.5" stroke="#6d6d6d" stroke-width="0.6" />
<line x1="245.4" y1="236.5" x2="245.4" y2="245.5" stroke="#8d8d8d" stroke-width="0.5" />
<text x="238.2" y="240.7" font-size="4.6" font-weight="bold" fill="#111" text-anchor="middle">act.6</text>
<rect x="231.9" y="241.5" width="12.7" height="3.5" fill="none" stroke="#c4c4c4" stroke-width="0.3"/>
<text x="238.2" y="244.4" font-size="3.3" fill="#555" text-anchor="middle">D.2.1.1</text>
<rect x="308.4" y="236.2" width="15.7" height="9.6" fill="#fff" stroke="#e4e4e4" stroke-width="0.3"/>
<line x1="308.4" y1="236.5" x2="308.4" y2="245.5" stroke="#6d6d6d" stroke-width="0.6" />
<line x1="324.1" y1="236.5" x2="324.1" y2="245.5" stroke="#8d8d8d" stroke-width="0.5" />
<text x="316.2" y="240.7" font-size="4.6" font-weight="bold" fill="#111" text-anchor="middle">act.8</text>
<rect x="309.2" y="241.5" width="14.1" height="3.5" fill="none" stroke="#c4c4c4" stroke-width="0.3"/>
<text x="316.2" y="244.4" font-size="3.3" fill="#555" text-anchor="middle">D.2.1.1</text>
<rect x="383.6" y="236.2" width="14.3" height="9.6" fill="#fff" stroke="#e4e4e4" stroke-width="0.3"/>
<line x1="383.6" y1="236.5" x2="383.6" y2="245.5" stroke="#6d6d6d" stroke-width="0.6" />
<line x1="397.9" y1="236.5" x2="397.9" y2="245.5" stroke="#8d8d8d" stroke-width="0.5" />
<text x="390.8" y="240.7" font-size="4.6" font-weight="bold" fill="#111" text-anchor="middle">act.11</text>
<rect x="384.4" y="241.5" width="12.7" height="3.5" fill="none" stroke="#c4c4c4" stroke-width="0.3"/>
<text x="390.8" y="244.4" font-size="3.3" fill="#555" text-anchor="middle">D.2.1.1</text>
<rect x="459.2" y="236.2" width="15.4" height="9.6" fill="#fff" stroke="#e4e4e4" stroke-width="0.3"/>
<line x1="459.2" y1="236.5" x2="459.2" y2="245.5" stroke="#6d6d6d" stroke-width="0.6" />
<line x1="474.6" y1="236.5" x2="474.6" y2="245.5" stroke="#8d8d8d" stroke-width="0.5" />
<text x="466.9" y="240.7" font-size="4.6" font-weight="bold" fill="#111" text-anchor="middle">act.14</text>
<rect x="460.0" y="241.5" width="13.8" height="3.5" fill="none" stroke="#c4c4c4" stroke-width="0.3"/>
<text x="466.9" y="244.4" font-size="3.3" fill="#555" text-anchor="middle">D.2.1.1</text>
<text x="112" y="256.3" font-size="3.6" fill="#111" font-weight="bold" text-anchor="start" >Action 3 | D. Bernini</text>
<rect x="112" y="257.6" width="88" height="2.0" fill="#f4c21f" />
<rect x="112" y="259.6" width="88" height="1.8" fill="#5a4f9c" />
<rect x="200" y="259.6" width="76.5" height="1.8" fill="#5a4f9c" />
<rect x="172" y="253.6" width="14.7" height="9.4" fill="#fff" stroke="#e4e4e4" stroke-width="0.3"/>
<line x1="172" y1="253.9" x2="172" y2="262.7" stroke="#6d6d6d" stroke-width="0.6" />
<line x1="186.7" y1="253.9" x2="186.7" y2="262.7" stroke="#8d8d8d" stroke-width="0.5" />
<text x="179.3" y="258.0" font-size="4.6" font-weight="bold" fill="#111" text-anchor="middle">act.2</text>
<rect x="172.8" y="258.8" width="13.1" height="3.4" fill="none" stroke="#c4c4c4" stroke-width="0.3"/>
<text x="179.3" y="261.6" font-size="3.3" fill="#555" text-anchor="middle">D.2.3.1</text>
<rect x="231.1" y="253.6" width="14.3" height="9.4" fill="#fff" stroke="#e4e4e4" stroke-width="0.3"/>
<line x1="231.1" y1="253.9" x2="231.1" y2="262.7" stroke="#6d6d6d" stroke-width="0.6" />
<line x1="245.4" y1="253.9" x2="245.4" y2="262.7" stroke="#8d8d8d" stroke-width="0.5" />
<text x="238.2" y="258.0" font-size="4.6" font-weight="bold" fill="#111" text-anchor="middle">act.3</text>
<rect x="231.9" y="258.8" width="12.7" height="3.4" fill="none" stroke="#c4c4c4" stroke-width="0.3"/>
<text x="238.2" y="261.6" font-size="3.3" fill="#555" text-anchor="middle">D.2.3.1</text>
<text x="112" y="272.6" font-size="3.6" fill="#111" font-weight="bold" text-anchor="start" >Action 4 - A. Bali</text>
<rect x="112" y="273.8" width="393.5" height="1.6" fill="#eed24e" />
<line x1="505.5" y1="274.75" x2="657" y2="274.75" stroke="#dcc43a" stroke-width="1.0" stroke-dasharray="0.7 0.6" opacity="1"/>
<rect x="172" y="270.2" width="14.7" height="9.4" fill="#fff" stroke="#e4e4e4" stroke-width="0.3"/>
<line x1="172" y1="270.5" x2="172" y2="279.3" stroke="#6d6d6d" stroke-width="0.6" />
<line x1="186.7" y1="270.5" x2="186.7" y2="279.3" stroke="#8d8d8d" stroke-width="0.5" />
<text x="179.3" y="274.6" font-size="4.6" font-weight="bold" fill="#111" text-anchor="middle">act.2</text>
<rect x="172.8" y="275.4" width="13.1" height="3.4" fill="none" stroke="#c4c4c4" stroke-width="0.3"/>
<text x="179.3" y="278.2" font-size="3.3" fill="#555" text-anchor="middle">D.2.4.1</text>
<rect x="231.1" y="270.2" width="14.3" height="9.4" fill="#fff" stroke="#e4e4e4" stroke-width="0.3"/>
<line x1="231.1" y1="270.5" x2="231.1" y2="279.3" stroke="#6d6d6d" stroke-width="0.6" />
<line x1="245.4" y1="270.5" x2="245.4" y2="279.3" stroke="#8d8d8d" stroke-width="0.5" />
<text x="238.2" y="274.6" font-size="4.6" font-weight="bold" fill="#111" text-anchor="middle">act.3</text>
<rect x="231.9" y="275.4" width="12.7" height="3.4" fill="none" stroke="#c4c4c4" stroke-width="0.3"/>
<text x="238.2" y="278.2" font-size="3.3" fill="#555" text-anchor="middle">D.2.4.1</text>
<rect x="459.6" y="270.2" width="15.0" height="9.4" fill="#fff" stroke="#e4e4e4" stroke-width="0.3"/>
<line x1="459.6" y1="270.5" x2="459.6" y2="279.3" stroke="#6d6d6d" stroke-width="0.6" />
<line x1="474.6" y1="270.5" x2="474.6" y2="279.3" stroke="#8d8d8d" stroke-width="0.5" />
<text x="467.1" y="274.6" font-size="4.6" font-weight="bold" fill="#111" text-anchor="middle">act.7</text>
<rect x="460.4" y="275.4" width="13.4" height="3.4" fill="none" stroke="#c4c4c4" stroke-width="0.3"/>
<text x="467.1" y="278.2" font-size="3.3" fill="#555" text-anchor="middle">D.2.4.1</text>
<text x="112" y="289" font-size="3.6" fill="#111" font-weight="bold" text-anchor="start" >Action 5 - F. D'Aglio - R. Prudente</text>
<rect x="112" y="289.9" width="161.6" height="1.9" fill="#f4c21f" />
<rect x="172" y="286.5" width="14.7" height="9.3" fill="#fff" stroke="#e4e4e4" stroke-width="0.3"/>
<line x1="172" y1="286.8" x2="172" y2="295.5" stroke="#6d6d6d" stroke-width="0.6" />
<line x1="186.7" y1="286.8" x2="186.7" y2="295.5" stroke="#8d8d8d" stroke-width="0.5" />
<text x="179.3" y="290.9" font-size="4.6" font-weight="bold" fill="#111" text-anchor="middle">act.1</text>
<rect x="172.8" y="291.6" width="13.1" height="3.3" fill="none" stroke="#c4c4c4" stroke-width="0.3"/>
<text x="179.3" y="294.4" font-size="3.3" fill="#555" text-anchor="middle">D.2.5.1</text>
<rect x="231.1" y="286.5" width="14.9" height="9.3" fill="#fff" stroke="#e4e4e4" stroke-width="0.3"/>
<line x1="231.1" y1="286.8" x2="231.1" y2="295.5" stroke="#6d6d6d" stroke-width="0.6" />
<line x1="246" y1="286.8" x2="246" y2="295.5" stroke="#8d8d8d" stroke-width="0.5" />
<text x="238.6" y="290.9" font-size="4.6" font-weight="bold" fill="#111" text-anchor="middle">act.3</text>
<rect x="231.9" y="291.6" width="13.3" height="3.3" fill="none" stroke="#c4c4c4" stroke-width="0.3"/>
<text x="238.6" y="294.4" font-size="3.3" fill="#555" text-anchor="middle">D.2.5.1</text>
<text x="200.8" y="304.6" font-size="3.6" fill="#111" font-weight="bold" text-anchor="start" >Action 9 | C. Nava</text>
<rect x="200" y="306.2" width="76.5" height="2.0" fill="#f4c21f" />
<rect x="200" y="308.2" width="76.5" height="1.8" fill="#5a4f9c" />
<rect x="276.5" y="306.2" width="76.2" height="1.9" fill="#f4c21f" />
<rect x="352.7" y="306.2" width="74.9" height="2.0" fill="#f4c21f" />
<rect x="352.7" y="308.2" width="74.9" height="1.8" fill="#5a4f9c" />
<rect x="427.6" y="306.2" width="77.9" height="1.9" fill="#f4c21f" />
<line x1="505.5" y1="307.15" x2="657" y2="307.15" stroke="#dcc43a" stroke-width="1.0" stroke-dasharray="0.7 0.6" opacity="1"/>
<rect x="255" y="303.2" width="16.6" height="9.8" fill="#fff" stroke="#e4e4e4" stroke-width="0.3"/>
<line x1="255" y1="303.5" x2="255" y2="312.7" stroke="#6d6d6d" stroke-width="0.6" />
<line x1="271.6" y1="303.5" x2="271.6" y2="312.7" stroke="#8d8d8d" stroke-width="0.5" />
<text x="263.3" y="307.8" font-size="4.6" font-weight="bold" fill="#111" text-anchor="middle">act.3</text>
<rect x="255.8" y="308.6" width="15.0" height="3.5" fill="none" stroke="#c4c4c4" stroke-width="0.3"/>
<text x="263.3" y="311.5" font-size="3.3" fill="#555" text-anchor="middle">D.2.9.3</text>
<rect x="306.7" y="303.2" width="15.4" height="9.8" fill="#fff" stroke="#e4e4e4" stroke-width="0.3"/>
<line x1="306.7" y1="303.5" x2="306.7" y2="312.7" stroke="#6d6d6d" stroke-width="0.6" />
<line x1="322.1" y1="303.5" x2="322.1" y2="312.7" stroke="#8d8d8d" stroke-width="0.5" />
<text x="314.4" y="307.8" font-size="4.6" font-weight="bold" fill="#111" text-anchor="middle">act.8</text>
<rect x="307.5" y="308.6" width="13.8" height="3.5" fill="none" stroke="#c4c4c4" stroke-width="0.3"/>
<text x="314.4" y="311.5" font-size="3.3" fill="#555" text-anchor="middle">D.2.9.3</text>
<rect x="383.6" y="303.2" width="15.4" height="9.8" fill="#fff" stroke="#e4e4e4" stroke-width="0.3"/>
<line x1="383.6" y1="303.5" x2="383.6" y2="312.7" stroke="#6d6d6d" stroke-width="0.6" />
<line x1="399" y1="303.5" x2="399" y2="312.7" stroke="#8d8d8d" stroke-width="0.5" />
<text x="391.3" y="307.8" font-size="4.6" font-weight="bold" fill="#111" text-anchor="middle">act.9</text>
<rect x="384.4" y="308.6" width="13.8" height="3.5" fill="none" stroke="#c4c4c4" stroke-width="0.3"/>
<text x="391.3" y="311.5" font-size="3.3" fill="#555" text-anchor="middle">D.2.9.3</text>
<rect x="459.2" y="303.2" width="15.4" height="9.8" fill="#fff" stroke="#e4e4e4" stroke-width="0.3"/>
<line x1="459.2" y1="303.5" x2="459.2" y2="312.7" stroke="#6d6d6d" stroke-width="0.6" />
<line x1="474.6" y1="303.5" x2="474.6" y2="312.7" stroke="#8d8d8d" stroke-width="0.5" />
<text x="466.9" y="307.8" font-size="4.6" font-weight="bold" fill="#111" text-anchor="middle">act.12</text>
<rect x="460.0" y="308.6" width="13.8" height="3.5" fill="none" stroke="#c4c4c4" stroke-width="0.3"/>
<text x="466.9" y="311.5" font-size="3.3" fill="#555" text-anchor="middle">D.2.9.3</text>
<text x="508" y="385.4" font-size="3.5" fill="#111" font-weight="bold" text-anchor="start" >Action 10 | Team</text>
<rect x="505.8" y="386.9" width="151.2" height="2.0" fill="#f4c21f" />
<rect x="505.8" y="388.9" width="151.2" height="1.8" fill="#5a4f9c" />
<rect x="552.6" y="383.5" width="16.0" height="9.9" fill="#fff" stroke="#8a8a8a" stroke-width="0.5"/>
<line x1="552.6" y1="383.8" x2="552.6" y2="393.09999999999997" stroke="#6d6d6d" stroke-width="0.6" />
<line x1="568.6" y1="383.8" x2="568.6" y2="393.09999999999997" stroke="#8d8d8d" stroke-width="0.5" />
<text x="560.6" y="388.2" font-size="4.6" font-weight="bold" fill="#111" text-anchor="middle">act.1</text>
<rect x="553.4" y="388.9" width="14.4" height="3.6" fill="none" stroke="#c4c4c4" stroke-width="0.3"/>
<text x="560.6" y="391.9" font-size="3.3" fill="#555" text-anchor="middle">D.3.1.1</text>
<text x="584" y="385.4" font-size="3.5" fill="#111" font-weight="bold" text-anchor="start" >Action 10 | Team</text>
<rect x="626.2" y="383.5" width="16.5" height="9.9" fill="#fff" stroke="#8a8a8a" stroke-width="0.5"/>
<line x1="626.2" y1="383.8" x2="626.2" y2="393.09999999999997" stroke="#6d6d6d" stroke-width="0.6" />
<line x1="642.7" y1="383.8" x2="642.7" y2="393.09999999999997" stroke="#8d8d8d" stroke-width="0.5" />
<text x="634.5" y="388.2" font-size="4.6" font-weight="bold" fill="#111" text-anchor="middle">act.2</text>
<rect x="627.0" y="388.9" width="14.9" height="3.6" fill="none" stroke="#c4c4c4" stroke-width="0.3"/>
<text x="634.5" y="391.9" font-size="3.3" fill="#555" text-anchor="middle">D.3.1.2</text>
<text x="584" y="412.3" font-size="3.5" fill="#111" font-weight="bold" text-anchor="start" >Action 11 | Team</text>
<rect x="580.9" y="413.7" width="76.1" height="2.0" fill="#f4c21f" />
<rect x="580.9" y="415.7" width="76.1" height="1.8" fill="#5a4f9c" />
<rect x="626.2" y="410.5" width="16.5" height="9.8" fill="#fff" stroke="#8a8a8a" stroke-width="0.5"/>
<line x1="626.2" y1="410.8" x2="626.2" y2="420.0" stroke="#6d6d6d" stroke-width="0.6" />
<line x1="642.7" y1="410.8" x2="642.7" y2="420.0" stroke="#8d8d8d" stroke-width="0.5" />
<text x="634.5" y="415.1" font-size="4.6" font-weight="bold" fill="#111" text-anchor="middle">act.1</text>
<rect x="627.0" y="415.9" width="14.9" height="3.5" fill="none" stroke="#c4c4c4" stroke-width="0.3"/>
<text x="634.5" y="418.8" font-size="3.3" fill="#555" text-anchor="middle">D.3.2.1</text>
<path d="M104.9,84.4 H93.6 V138.7 A33.9,33.9 0 1 0 93.6,165.3 V210.3 H104.9" fill="none" stroke="#4f83b3" stroke-width="0.9"/>
<text font-size="6.3" font-weight="bold" fill="#111"><textPath href="#c1a" textLength="67" lengthAdjust="spacingAndGlyphs">Actions Laboratories</textPath></text>
<text font-size="4.8" fill="#8a8a8a"><textPath href="#c1b" textLength="38" lengthAdjust="spacingAndGlyphs">Transversal themes</textPath></text>
<text x="60" y="136.6" font-size="2.4" fill="#555" text-anchor="end">Actions</text>
<text x="62" y="136.8" font-size="5.4" fill="#222" textLength="7" lengthAdjust="spacingAndGlyphs">1/7</text>
<text x="61.5" y="143.7" font-size="8.4" fill="#222" font-weight="bold" text-anchor="middle" textLength="52.4" lengthAdjust="spacingAndGlyphs">S<tspan font-size="6.7">TRUCTURAL</tspan></text>
<text x="62" y="150.5" font-size="8.4" fill="#222" font-weight="bold" text-anchor="middle" textLength="29.3" lengthAdjust="spacingAndGlyphs">S<tspan font-size="6.7">AFETY</tspan></text>
<text x="61.2" y="159" font-size="2.4" fill="#555" text-anchor="end">Actions</text>
<text x="62.3" y="159.6" font-size="5.4" fill="#222" textLength="7.6" lengthAdjust="spacingAndGlyphs">8/9</text>
<text x="61.8" y="166.6" font-size="8.4" fill="#222" font-weight="bold" text-anchor="middle" textLength="35.4" lengthAdjust="spacingAndGlyphs">C<tspan font-size="6.7">LIMATE</tspan></text>
<text x="61.5" y="172.5" font-size="8.4" fill="#222" font-weight="bold" text-anchor="middle" textLength="47.2" lengthAdjust="spacingAndGlyphs">S<tspan font-size="6.7">CENARIOS</tspan></text>
<path d="M105.4,231.3 H94.2 V256.8 A33.8,33.8 0 1 0 94.2,282.8 V310.6 H105.4" fill="none" stroke="#4f83b3" stroke-width="0.9"/>
<text font-size="6.3" font-weight="bold" fill="#111"><textPath href="#c2a" textLength="34" lengthAdjust="spacingAndGlyphs">Living Lab</textPath></text>
<text font-size="4.8" fill="#8a8a8a"><textPath href="#c2b" textLength="36" lengthAdjust="spacingAndGlyphs">Sistema virtual</textPath></text>
<text x="63.2" y="264.3" font-size="7.8" fill="#222" font-weight="bold" text-anchor="middle" textLength="53.6" lengthAdjust="spacingAndGlyphs">P<tspan font-size="6">ILOT</tspan> C<tspan font-size="6">ASES</tspan></text>
<text x="63.2" y="274.1" font-size="7" fill="#222" font-weight="bold" text-anchor="middle" textLength="23.2" lengthAdjust="spacingAndGlyphs">In situ</text>
<text x="63.2" y="280.9" font-size="6.2" fill="#333" text-anchor="middle" textLength="39.3" lengthAdjust="spacingAndGlyphs">Knowledge</text>
<text x="63.0" y="288.8" font-size="6.2" fill="#333" text-anchor="middle" textLength="28.2" lengthAdjust="spacingAndGlyphs">Transfer</text>
<path d="M59.4,322.9 H28.5 Q25.5,322.9 25.5,325.9 V350.1 Q25.5,353.1 28.5,353.1 H102.4 Q105.4,353.1 105.4,350.1 V347.9" fill="none" stroke="#5f8fc0" stroke-width="0.9"/>
<text x="63.2" y="334.5" font-size="7.2" fill="#222" font-weight="bold" text-anchor="middle" textLength="44.3" lengthAdjust="spacingAndGlyphs">L<tspan font-size="5.6">IVING</tspan> L<tspan font-size="5.6">AB</tspan></text>
<text x="63.4" y="341" font-size="5.8" fill="#222" font-weight="bold" text-anchor="middle" textLength="64.4" lengthAdjust="spacingAndGlyphs">C<tspan font-size="4.5">O-DESIGN EVENTS</tspan></text>
<text x="63.3" y="347.4" font-size="4.4" fill="#555" text-anchor="middle" textLength="48.7" lengthAdjust="spacingAndGlyphs">WITH C<tspan font-size="4.4">OMMUNITY</tspan></text>
<path d="M80.64,371.41 A32.8,32.8 0 1 0 80.16,426.11" fill="none" stroke="#6e68a8" stroke-width="0.8"/>
<text font-size="6.3" font-weight="bold" fill="#111"><textPath href="#c3a" textLength="48.5" lengthAdjust="spacingAndGlyphs">Open platform</textPath></text>
<text font-size="4.8" fill="#8a8a8a"><textPath href="#c3b" textLength="31" lengthAdjust="spacingAndGlyphs">digital space</textPath></text>
<text x="60.3" y="384" font-size="6.4" fill="#222" font-weight="bold" text-anchor="middle">Data</text>
<text x="63" y="390.8" font-size="6.4" fill="#222" font-weight="bold" text-anchor="middle" textLength="42.3" lengthAdjust="spacingAndGlyphs">Information</text>
<text x="63.5" y="397.9" font-size="6.4" fill="#222" font-weight="bold" text-anchor="middle" textLength="52" lengthAdjust="spacingAndGlyphs">Content <tspan font-weight="normal" fill="#2a2a2a">model</tspan></text>
<text x="62.8" y="414" font-size="6.4" fill="#222" font-weight="bold" text-anchor="middle" textLength="41" lengthAdjust="spacingAndGlyphs">User Profile</text>
<text x="62" y="420.8" font-size="6.4" fill="#2a2a2a" text-anchor="middle">model</text>
<path d="M115.30,335.50 L118.17,339.20 L115.30,342.90 M119.40,335.50 L122.27,339.20 L119.40,342.90 M123.50,335.50 L126.37,339.20 L123.50,342.90 M127.60,335.50 L130.47,339.20 L127.60,342.90 M131.70,335.50 L134.57,339.20 L131.70,342.90 M135.80,335.50 L138.67,339.20 L135.80,342.90 M139.90,335.50 L142.77,339.20 L139.90,342.90 M144.00,335.50 L146.87,339.20 L144.00,342.90 M148.10,335.50 L150.97,339.20 L148.10,342.90 M152.20,335.50 L155.07,339.20 L152.20,342.90 M156.30,335.50 L159.17,339.20 L156.30,342.90 M160.40,335.50 L163.27,339.20 L160.40,342.90 M164.50,335.50 L167.37,339.20 L164.50,342.90 M168.60,335.50 L171.47,339.20 L168.60,342.90" fill="none" stroke="#9a9a9a" stroke-width="0.95" opacity="1"/>
<path d="M223.50,335.50 L226.37,339.20 L223.50,342.90 M227.60,335.50 L230.47,339.20 L227.60,342.90 M231.70,335.50 L234.57,339.20 L231.70,342.90 M235.80,335.50 L238.67,339.20 L235.80,342.90 M239.90,335.50 L242.77,339.20 L239.90,342.90 M244.00,335.50 L246.87,339.20 L244.00,342.90 M248.10,335.50 L250.97,339.20 L248.10,342.90 M252.20,335.50 L255.07,339.20 L252.20,342.90 M256.30,335.50 L259.17,339.20 L256.30,342.90 M260.40,335.50 L263.27,339.20 L260.40,342.90 M264.50,335.50 L267.37,339.20 L264.50,342.90 M268.60,335.50 L271.47,339.20 L268.60,342.90 M272.70,335.50 L275.57,339.20 L272.70,342.90 M276.80,335.50 L279.67,339.20 L276.80,342.90 M280.90,335.50 L283.77,339.20 L280.90,342.90 M285.00,335.50 L287.87,339.20 L285.00,342.90 M289.10,335.50 L291.97,339.20 L289.10,342.90 M293.20,335.50 L296.07,339.20 L293.20,342.90 M297.30,335.50 L300.17,339.20 L297.30,342.90 M301.40,335.50 L304.27,339.20 L301.40,342.90 M305.50,335.50 L308.37,339.20 L305.50,342.90 M309.60,335.50 L312.47,339.20 L309.60,342.90 M313.70,335.50 L316.57,339.20 L313.70,342.90 M317.80,335.50 L320.67,339.20 L317.80,342.90 M321.90,335.50 L324.77,339.20 L321.90,342.90 M326.00,335.50 L328.87,339.20 L326.00,342.90" fill="none" stroke="#9a9a9a" stroke-width="0.95" opacity="1"/>
<path d="M373.60,335.50 L376.47,339.20 L373.60,342.90 M377.70,335.50 L380.57,339.20 L377.70,342.90 M381.80,335.50 L384.67,339.20 L381.80,342.90 M385.90,335.50 L388.77,339.20 L385.90,342.90 M390.00,335.50 L392.87,339.20 L390.00,342.90 M394.10,335.50 L396.97,339.20 L394.10,342.90 M398.20,335.50 L401.07,339.20 L398.20,342.90 M402.30,335.50 L405.17,339.20 L402.30,342.90 M406.40,335.50 L409.27,339.20 L406.40,342.90 M410.50,335.50 L413.37,339.20 L410.50,342.90 M414.60,335.50 L417.47,339.20 L414.60,342.90 M418.70,335.50 L421.57,339.20 L418.70,342.90 M422.80,335.50 L425.67,339.20 L422.80,342.90 M426.90,335.50 L429.77,339.20 L426.90,342.90 M431.00,335.50 L433.87,339.20 L431.00,342.90 M435.10,335.50 L437.97,339.20 L435.10,342.90 M439.20,335.50 L442.07,339.20 L439.20,342.90 M443.30,335.50 L446.17,339.20 L443.30,342.90 M447.40,335.50 L450.27,339.20 L447.40,342.90 M451.50,335.50 L454.37,339.20 L451.50,342.90 M455.60,335.50 L458.47,339.20 L455.60,342.90 M459.70,335.50 L462.57,339.20 L459.70,342.90 M463.80,335.50 L466.67,339.20 L463.80,342.90 M467.90,335.50 L470.77,339.20 L467.90,342.90 M472.00,335.50 L474.87,339.20 L472.00,342.90 M476.10,335.50 L478.97,339.20 L476.10,342.90" fill="none" stroke="#9a9a9a" stroke-width="0.95" opacity="1"/>
<path d="M529.00,335.50 L531.87,339.20 L529.00,342.90 M533.10,335.50 L535.97,339.20 L533.10,342.90 M537.20,335.50 L540.07,339.20 L537.20,342.90 M541.30,335.50 L544.17,339.20 L541.30,342.90 M545.40,335.50 L548.27,339.20 L545.40,342.90 M549.50,335.50 L552.37,339.20 L549.50,342.90 M553.60,335.50 L556.47,339.20 L553.60,342.90 M557.70,335.50 L560.57,339.20 L557.70,342.90 M561.80,335.50 L564.67,339.20 L561.80,342.90 M565.90,335.50 L568.77,339.20 L565.90,342.90 M570.00,335.50 L572.87,339.20 L570.00,342.90" fill="none" stroke="#9a9a9a" stroke-width="0.95" opacity="1"/>
<line x1="113" y1="332.3" x2="650" y2="332.3" stroke="#f1f1f1" stroke-width="0.5" stroke-dasharray="0.8 0.8"/>
<line x1="113" y1="345.4" x2="650" y2="345.4" stroke="#f1f1f1" stroke-width="0.5" stroke-dasharray="0.8 0.8"/>
<circle cx="200.1" cy="340.2" r="12.9" fill="#d3d4d6"/>
<text x="199.5" y="338.8" font-size="7.7" fill="#2a2a2a" text-anchor="middle" stroke="#2a2a2a" stroke-width="0.22" textLength="10.2" lengthAdjust="spacingAndGlyphs">1<tspan font-size="6.4">ST</tspan></text>
<text x="200" y="345.1" font-size="6.8" fill="#2a2a2a" text-anchor="middle" stroke="#2a2a2a" stroke-width="0.22" textLength="33.3" lengthAdjust="spacingAndGlyphs">S<tspan font-size="5.6">EMINAR</tspan></text>
<circle cx="352.9" cy="340.3" r="12.6" fill="#d3d4d6"/>
<text x="353.1" y="336.4" font-size="7.4" fill="#2a2a2a" text-anchor="middle" stroke="#2a2a2a" stroke-width="0.22" textLength="15.8" lengthAdjust="spacingAndGlyphs">2<tspan font-size="6.6">ND</tspan></text>
<text x="353.5" y="342.6" font-size="6.6" fill="#2a2a2a" text-anchor="middle" stroke="#2a2a2a" stroke-width="0.22" textLength="42.4" lengthAdjust="spacingAndGlyphs">C<tspan font-size="5.4">O-DESIGN</tspan></text>
<text x="352.9" y="349.3" font-size="6.3" fill="#2a2a2a" text-anchor="middle" stroke="#2a2a2a" stroke-width="0.22" textLength="21.6" lengthAdjust="spacingAndGlyphs">EVENT</text>
<circle cx="505.5" cy="341" r="12.6" fill="#a3a5a9"/>
<text x="505.3" y="336.8" font-size="7.6" fill="#2a2a2a" text-anchor="middle" stroke="#2a2a2a" stroke-width="0.22" textLength="15.5" lengthAdjust="spacingAndGlyphs">3<tspan font-size="6.6">RD</tspan></text>
<text x="505.5" y="343.6" font-size="6.6" fill="#2a2a2a" text-anchor="middle" stroke="#2a2a2a" stroke-width="0.22" textLength="41" lengthAdjust="spacingAndGlyphs">C<tspan font-size="5.4">O-DESIGN</tspan></text>
<text x="504.7" y="349.7" font-size="6.3" fill="#2a2a2a" text-anchor="middle" stroke="#2a2a2a" stroke-width="0.22" textLength="21.2" lengthAdjust="spacingAndGlyphs">EVENT</text>
<line x1="587.5" y1="330.8" x2="587.5" y2="350.1" stroke="#e2e2e2" stroke-width="0.5" />
<line x1="600.7" y1="330.8" x2="600.7" y2="350.1" stroke="#e2e2e2" stroke-width="0.5" />
<line x1="620" y1="330.8" x2="620" y2="350.1" stroke="#e2e2e2" stroke-width="0.5" />
<line x1="638.4" y1="330.8" x2="638.4" y2="350.1" stroke="#e2e2e2" stroke-width="0.5" />
<line x1="650.5" y1="330.8" x2="650.5" y2="350.1" stroke="#e2e2e2" stroke-width="0.5" />
<text x="620.6" y="357.3" font-size="4.9" fill="#333" text-anchor="middle" textLength="66" lengthAdjust="spacingAndGlyphs">Training and test activities</text>
<text x="620.6" y="363.4" font-size="4.9" fill="#333" text-anchor="middle">(6 months)</text>
<circle cx="666" cy="340" r="12.9" fill="#f7d117"/>
<text x="666" y="338.8" font-size="7.4" fill="#222" font-weight="bold" text-anchor="middle" textLength="20.8" lengthAdjust="spacingAndGlyphs">F<tspan font-size="5.2">INAL</tspan></text>
<text x="666.2" y="345.5" font-size="6.8" fill="#222" font-weight="bold" text-anchor="middle" textLength="32.6" lengthAdjust="spacingAndGlyphs">S<tspan font-size="5.2">EMINAR</tspan></text>
<line x1="111" y1="382.6" x2="505" y2="382.6" stroke="#dfe8dc" stroke-width="0.5" stroke-dasharray="0.8 0.8"/>
<line x1="111" y1="395.6" x2="505" y2="395.6" stroke="#dfe8dc" stroke-width="0.5" stroke-dasharray="0.8 0.8"/>
<path d="M110.60,385.40 L113.40,389.00 L110.60,392.60 M114.60,385.40 L117.40,389.00 L114.60,392.60 M118.60,385.40 L121.40,389.00 L118.60,392.60 M122.60,385.40 L125.40,389.00 L122.60,392.60 M126.60,385.40 L129.40,389.00 L126.60,392.60 M130.60,385.40 L133.40,389.00 L130.60,392.60 M134.60,385.40 L137.40,389.00 L134.60,392.60 M138.60,385.40 L141.40,389.00 L138.60,392.60 M142.60,385.40 L145.40,389.00 L142.60,392.60 M146.60,385.40 L149.40,389.00 L146.60,392.60 M150.60,385.40 L153.40,389.00 L150.60,392.60 M154.60,385.40 L157.40,389.00 L154.60,392.60 M158.60,385.40 L161.40,389.00 L158.60,392.60 M162.60,385.40 L165.40,389.00 L162.60,392.60 M166.60,385.40 L169.40,389.00 L166.60,392.60 M170.60,385.40 L173.40,389.00 L170.60,392.60 M174.60,385.40 L177.40,389.00 L174.60,392.60 M178.60,385.40 L181.40,389.00 L178.60,392.60 M182.60,385.40 L185.40,389.00 L182.60,392.60 M186.60,385.40 L189.40,389.00 L186.60,392.60 M190.60,385.40 L193.40,389.00 L190.60,392.60 M194.60,385.40 L197.40,389.00 L194.60,392.60 M198.60,385.40 L201.40,389.00 L198.60,392.60 M202.60,385.40 L205.40,389.00 L202.60,392.60 M206.60,385.40 L209.40,389.00 L206.60,392.60 M210.60,385.40 L213.40,389.00 L210.60,392.60 M214.60,385.40 L217.40,389.00 L214.60,392.60 M218.60,385.40 L221.40,389.00 L218.60,392.60 M222.60,385.40 L225.40,389.00 L222.60,392.60 M226.60,385.40 L229.40,389.00 L226.60,392.60 M230.60,385.40 L233.40,389.00 L230.60,392.60 M234.60,385.40 L237.40,389.00 L234.60,392.60 M238.60,385.40 L241.40,389.00 L238.60,392.60 M242.60,385.40 L245.40,389.00 L242.60,392.60 M246.60,385.40 L249.40,389.00 L246.60,392.60 M250.60,385.40 L253.40,389.00 L250.60,392.60 M254.60,385.40 L257.40,389.00 L254.60,392.60 M258.60,385.40 L261.40,389.00 L258.60,392.60 M262.60,385.40 L265.40,389.00 L262.60,392.60 M266.60,385.40 L269.40,389.00 L266.60,392.60 M270.60,385.40 L273.40,389.00 L270.60,392.60 M274.60,385.40 L277.40,389.00 L274.60,392.60 M278.60,385.40 L281.40,389.00 L278.60,392.60 M282.60,385.40 L285.40,389.00 L282.60,392.60 M286.60,385.40 L289.40,389.00 L286.60,392.60 M290.60,385.40 L293.40,389.00 L290.60,392.60 M294.60,385.40 L297.40,389.00 L294.60,392.60 M298.60,385.40 L301.40,389.00 L298.60,392.60 M302.60,385.40 L305.40,389.00 L302.60,392.60 M306.60,385.40 L309.40,389.00 L306.60,392.60 M310.60,385.40 L313.40,389.00 L310.60,392.60 M314.60,385.40 L317.40,389.00 L314.60,392.60 M318.60,385.40 L321.40,389.00 L318.60,392.60 M322.60,385.40 L325.40,389.00 L322.60,392.60 M326.60,385.40 L329.40,389.00 L326.60,392.60 M330.60,385.40 L333.40,389.00 L330.60,392.60 M334.60,385.40 L337.40,389.00 L334.60,392.60 M338.60,385.40 L341.40,389.00 L338.60,392.60 M342.60,385.40 L345.40,389.00 L342.60,392.60 M346.60,385.40 L349.40,389.00 L346.60,392.60 M350.60,385.40 L353.40,389.00 L350.60,392.60 M354.60,385.40 L357.40,389.00 L354.60,392.60 M358.60,385.40 L361.40,389.00 L358.60,392.60 M362.60,385.40 L365.40,389.00 L362.60,392.60 M366.60,385.40 L369.40,389.00 L366.60,392.60 M370.60,385.40 L373.40,389.00 L370.60,392.60 M374.60,385.40 L377.40,389.00 L374.60,392.60 M378.60,385.40 L381.40,389.00 L378.60,392.60 M382.60,385.40 L385.40,389.00 L382.60,392.60 M386.60,385.40 L389.40,389.00 L386.60,392.60 M390.60,385.40 L393.40,389.00 L390.60,392.60 M394.60,385.40 L397.40,389.00 L394.60,392.60 M398.60,385.40 L401.40,389.00 L398.60,392.60 M402.60,385.40 L405.40,389.00 L402.60,392.60 M406.60,385.40 L409.40,389.00 L406.60,392.60 M410.60,385.40 L413.40,389.00 L410.60,392.60 M414.60,385.40 L417.40,389.00 L414.60,392.60 M418.60,385.40 L421.40,389.00 L418.60,392.60 M422.60,385.40 L425.40,389.00 L422.60,392.60 M426.60,385.40 L429.40,389.00 L426.60,392.60 M430.60,385.40 L433.40,389.00 L430.60,392.60 M434.60,385.40 L437.40,389.00 L434.60,392.60 M438.60,385.40 L441.40,389.00 L438.60,392.60 M442.60,385.40 L445.40,389.00 L442.60,392.60 M446.60,385.40 L449.40,389.00 L446.60,392.60 M450.60,385.40 L453.40,389.00 L450.60,392.60 M454.60,385.40 L457.40,389.00 L454.60,392.60 M458.60,385.40 L461.40,389.00 L458.60,392.60 M462.60,385.40 L465.40,389.00 L462.60,392.60 M466.60,385.40 L469.40,389.00 L466.60,392.60 M470.60,385.40 L473.40,389.00 L470.60,392.60 M474.60,385.40 L477.40,389.00 L474.60,392.60 M478.60,385.40 L481.40,389.00 L478.60,392.60 M482.60,385.40 L485.40,389.00 L482.60,392.60 M486.60,385.40 L489.40,389.00 L486.60,392.60 M490.60,385.40 L493.40,389.00 L490.60,392.60 M494.60,385.40 L497.40,389.00 L494.60,392.60 M498.60,385.40 L501.40,389.00 L498.60,392.60 M502.60,385.40 L505.40,389.00 L502.60,392.60" fill="none" stroke="#78a97b" stroke-width="0.95" opacity="1"/>
<path d="M507.50,411.10 L510.37,415.00 L507.50,418.90 M511.60,411.10 L514.47,415.00 L511.60,418.90 M515.70,411.10 L518.57,415.00 L515.70,418.90 M519.80,411.10 L522.67,415.00 L519.80,418.90 M523.90,411.10 L526.77,415.00 L523.90,418.90 M528.00,411.10 L530.87,415.00 L528.00,418.90 M532.10,411.10 L534.97,415.00 L532.10,418.90 M536.20,411.10 L539.07,415.00 L536.20,418.90 M540.30,411.10 L543.17,415.00 L540.30,418.90 M544.40,411.10 L547.27,415.00 L544.40,418.90 M548.50,411.10 L551.37,415.00 L548.50,418.90 M552.60,411.10 L555.47,415.00 L552.60,418.90 M556.70,411.10 L559.57,415.00 L556.70,418.90 M560.80,411.10 L563.67,415.00 L560.80,418.90 M564.90,411.10 L567.77,415.00 L564.90,418.90 M569.00,411.10 L571.87,415.00 L569.00,418.90 M573.10,411.10 L575.97,415.00 L573.10,418.90 M577.20,411.10 L580.07,415.00 L577.20,418.90" fill="none" stroke="#2f83b9" stroke-width="1.3" opacity="1"/>
<rect x="0" y="449" width="685" height="27" fill="#1560b0" />
<line x1="7.4" y1="454.5" x2="7.4" y2="470.5" stroke="#4d86c4" stroke-width="0.5" />
<line x1="29.6" y1="454.5" x2="29.6" y2="470.5" stroke="#4d86c4" stroke-width="0.5" />
<line x1="82.4" y1="454.5" x2="82.4" y2="470.5" stroke="#4d86c4" stroke-width="0.5" />
<line x1="168.7" y1="454.5" x2="168.7" y2="470.5" stroke="#4d86c4" stroke-width="0.5" />
<line x1="255.6" y1="454.5" x2="255.6" y2="470.5" stroke="#4d86c4" stroke-width="0.5" />
<line x1="335.6" y1="454.5" x2="335.6" y2="470.5" stroke="#4d86c4" stroke-width="0.5" />
<circle cx="23.20" cy="462.00" r="0.55" fill="#e8eef8"/>
<circle cx="22.58" cy="464.30" r="0.55" fill="#e8eef8"/>
<circle cx="20.90" cy="465.98" r="0.55" fill="#e8eef8"/>
<circle cx="18.60" cy="466.60" r="0.55" fill="#e8eef8"/>
<circle cx="16.30" cy="465.98" r="0.55" fill="#e8eef8"/>
<circle cx="14.62" cy="464.30" r="0.55" fill="#e8eef8"/>
<circle cx="14.00" cy="462.00" r="0.55" fill="#e8eef8"/>
<circle cx="14.62" cy="459.70" r="0.55" fill="#e8eef8"/>
<circle cx="16.30" cy="458.02" r="0.55" fill="#e8eef8"/>
<circle cx="18.60" cy="457.40" r="0.55" fill="#e8eef8"/>
<circle cx="20.90" cy="458.02" r="0.55" fill="#e8eef8"/>
<circle cx="22.58" cy="459.70" r="0.55" fill="#e8eef8"/>
<text x="32" y="458" font-size="4.2" fill="#ffffff" font-weight="bold" text-anchor="start" >Finanziato</text>
<text x="32" y="463.3" font-size="4.2" fill="#ffffff" font-weight="bold" text-anchor="start" textLength="42" lengthAdjust="spacingAndGlyphs">dall'Unione europea</text>
<text x="32" y="468.6" font-size="3.8" fill="#c9d9ee" font-weight="normal" text-anchor="start" >NextGenerationEU</text>
<circle cx="104.2" cy="461.5" r="5.3" fill="none" stroke="#dfe7f3" stroke-width="1.4" stroke-dasharray="1 0.5"/>
<circle cx="104.2" cy="461.5" r="3" fill="none" stroke="#e8eef8" stroke-width="0.6"/>
<path d="M104.2,458.8 l0.8,2.1 h2.2 l-1.8,1.3 l0.7,2.1 l-1.9,-1.3 l-1.9,1.3 l0.7,-2.1 l-1.8,-1.3 h2.2z" fill="#e8eef8"/>
<text x="114" y="457.6" font-size="4.5" fill="#ffffff" font-weight="bold" text-anchor="start" >Ministero</text>
<text x="114" y="463.2" font-size="4.5" fill="#ffffff" font-weight="bold" text-anchor="start" textLength="34.5" lengthAdjust="spacingAndGlyphs">dell'Università</text>
<text x="114" y="468.4" font-size="4.5" fill="#ffffff" font-weight="bold" text-anchor="start" textLength="33" lengthAdjust="spacingAndGlyphs">e della Ricerca</text>
<path d="M185.5,456 h4.5 v10 h-4.5z" fill="#3a9d50" opacity="0.9"/><path d="M190,454.5 h5 v13.5 h-5z" fill="#f2f2f2"/><path d="M195,453 h6 v9.5 h-6z" fill="#e23b3b"/>
<text x="204.5" y="462" font-size="5.6" fill="#ffffff" font-weight="bold" text-anchor="start" font-family="Liberation Serif, serif" textLength="35.8" lengthAdjust="spacingAndGlyphs">ItaliaDomani</text>
<text x="205" y="466.3" font-size="1.8" fill="#d0ddf0" font-weight="normal" text-anchor="start" >PIANO NAZIONALE DI RIPRESA</text>
<path d="M270,456 l5,-2 v14 l-5,-1z M276,454 l7,1.5 v12 l-7,0.5z" fill="#f2f2f2"/>
<path d="M272.5,456 v10 M279.5,456 v10" stroke="#1560b0" stroke-width="0.8"/>
<text x="285.5" y="461.5" font-size="3.6" fill="#e2e9f4" font-weight="normal" text-anchor="start" textLength="39.5" lengthAdjust="spacingAndGlyphs">T E C N O P O L O</text>
<text x="286" y="464.9" font-size="1.7" fill="#c9d8ee" font-weight="normal" text-anchor="start" textLength="38" lengthAdjust="spacingAndGlyphs">technology and innovation</text>
<circle cx="350.7" cy="462.5" r="7" fill="none" stroke="#e6edf7" stroke-width="1.3"/>
<circle cx="350.7" cy="462.5" r="4.4" fill="#e6edf7"/>
<path d="M348.6,460 v5 M350.7,459 v7 M352.8,460 v5" stroke="#1560b0" stroke-width="0.6"/>
<line x1="359.5" y1="456.0" x2="366" y2="456.0" stroke="#aac3e3" stroke-width="0.5" />
<line x1="359.5" y1="458.2" x2="366" y2="458.2" stroke="#aac3e3" stroke-width="0.5" />
<line x1="359.5" y1="460.4" x2="366" y2="460.4" stroke="#aac3e3" stroke-width="0.5" />
<line x1="359.5" y1="462.6" x2="366" y2="462.6" stroke="#aac3e3" stroke-width="0.5" />
<line x1="359.5" y1="464.8" x2="366" y2="464.8" stroke="#aac3e3" stroke-width="0.5" />
<line x1="359.5" y1="467.0" x2="366" y2="467.0" stroke="#aac3e3" stroke-width="0.5" />
<text x="368" y="458.6" font-size="3.5" fill="#ffffff" font-weight="normal" text-anchor="start" >Università degli Studi</text>
<text x="368" y="463.2" font-size="3.8" fill="#ffffff" font-weight="bold" text-anchor="start" >Mediterranea</text>
<text x="368" y="467.8" font-size="3.8" fill="#ffffff" font-weight="normal" text-anchor="start" >di Reggio Calabria</text>
<text x="437" y="461.5" font-size="4.7" fill="#fff" textLength="238" lengthAdjust="spacingAndGlyphs"><tspan font-weight="bold">Spoke 4 - PP. 4.3.1</tspan> <tspan font-style="italic">Open platform "digital space" (physical and digital) of the type "user profiling"</tspan></text>
<text x="437" y="467.3" font-size="4.7" fill="#fff" font-style="italic" textLength="178" lengthAdjust="spacingAndGlyphs">for the advanced and dynamic co-design of interventions on the built and as-was</text>
</svg>
</body></html>
